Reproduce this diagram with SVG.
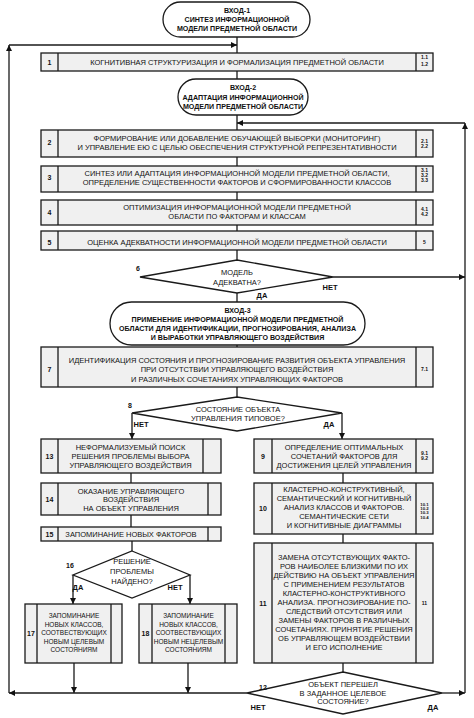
<svg xmlns="http://www.w3.org/2000/svg" width="474" height="718" viewBox="0 0 474 718">
<defs>
<marker id="ah" viewBox="0 0 10 10" refX="10" refY="5" markerWidth="7" markerHeight="6" markerUnits="userSpaceOnUse" orient="auto">
<path d="M0,0 L10,5 L0,10 z" fill="#111"/>
</marker>
</defs>
<style>
.box{fill:#f0f0f0;stroke:#1a1a1a;stroke-width:1.3}
.div{stroke:#1a1a1a;stroke-width:1.3}
.term{fill:#fff;stroke:#1a1a1a;stroke-width:1.3}
.dia{fill:#fff;stroke:#1a1a1a;stroke-width:1.3}
.c{fill:none;stroke:#1a1a1a;stroke-width:1.3}
.ca{fill:none;stroke:#1a1a1a;stroke-width:1.3;marker-end:url(#ah)}
text{font-family:"Liberation Sans",Arial,sans-serif;fill:#111;text-anchor:middle}
.t{font-size:7.5px}
.ts{font-size:6.5px}
.tb{font-size:7.1px;font-weight:bold}
.n{font-size:7px;font-weight:bold}
.s{font-size:5px;font-weight:bold}
.xs{font-size:4.3px;font-weight:bold}
.l{font-size:7.5px;font-weight:bold}
</style>

<g id="connectors">
<path class="c" d="M237,37 V53 M237,71 V79 M237,115 V130 M237,157 V166 M237,192 V200 M237,225 V231 M237,250 V260 M237,293 V302 M237,345 V347 M237,387 V397"/>
<path class="c" d="M131,473 V483 M131,515 V527 M132,541 V551 M343,473 V483 M343,534 V543 M343,663 V672"/>
<path class="ca" d="M132,413 V439"/>
<path class="ca" d="M342,413 V439"/>
<path class="ca" d="M73,575 V604"/>
<path class="ca" d="M190,575 V604"/>
<path class="ca" d="M74,663 V693"/>
<path class="ca" d="M188,663 V693"/>
<path class="ca" d="M333,277 H465"/>
<path class="ca" d="M442,693 H465"/>
<path class="ca" d="M465,693 V123"/>
<path class="ca" d="M465,123 H237"/>
<path class="ca" d="M247,693 H9"/>
<path class="ca" d="M9,693 V45"/>
<path class="ca" d="M9,45 H237"/>
</g>

<g id="t1">
<rect class="term" x="163" y="2" width="147" height="35" rx="17.5"/>
<text class="tb" x="237" y="13">ВХОД-1</text>
<text class="tb" x="237" y="22">СИНТЕЗ ИНФОРМАЦИОННОЙ</text>
<text class="tb" x="237" y="31">МОДЕЛИ ПРЕДМЕТНОЙ ОБЛАСТИ</text>
</g>

<g id="b1">
<rect class="box" x="41" y="53" width="392" height="18"/>
<path class="div" d="M58,53 V71 M416,53 V71"/>
<text class="n" x="49.5" y="64.5">1</text>
<text class="t" x="237" y="64.7">КОГНИТИВНАЯ СТРУКТУРИЗАЦИЯ И ФОРМАЛИЗАЦИЯ ПРЕДМЕТНОЙ ОБЛАСТИ</text>
<text class="s" x="424.5" y="59.3">1.1</text>
<text class="s" x="424.5" y="65.8">1.2</text>
</g>

<g id="t2">
<rect class="term" x="178" y="79" width="130" height="36" rx="18"/>
<text class="tb" x="243" y="90">ВХОД-2</text>
<text class="tb" x="243" y="99.5">АДАПТАЦИЯ ИНФОРМАЦИОННОЙ</text>
<text class="tb" x="243" y="109">МОДЕЛИ ПРЕДМЕТНОЙ ОБЛАСТИ</text>
</g>

<g id="b2">
<rect class="box" x="41" y="130" width="392" height="27"/>
<path class="div" d="M58,130 V157 M416,130 V157"/>
<text class="n" x="49.5" y="145">2</text>
<text class="t" x="237" y="141">ФОРМИРОВАНИЕ ИЛИ ДОБАВЛЕНИЕ ОБУЧАЮЩЕЙ ВЫБОРКИ (МОНИТОРИНГ)</text>
<text class="t" x="237" y="150">И УПРАВЛЕНИЕ ЕЮ С ЦЕЛЬЮ ОБЕСПЕЧЕНИЯ СТРУКТУРНОЙ РЕПРЕЗЕНТАТИВНОСТИ</text>
<text class="s" x="424.5" y="142.5">2.1</text>
<text class="s" x="424.5" y="147.5">2.2</text>
</g>

<g id="b3">
<rect class="box" x="41" y="166" width="392" height="26"/>
<path class="div" d="M58,166 V192 M416,166 V192"/>
<text class="n" x="49.5" y="180">3</text>
<text class="t" x="237" y="176">СИНТЕЗ ИЛИ АДАПТАЦИЯ ИНФОРМАЦИОННОЙ МОДЕЛИ ПРЕДМЕТНОЙ ОБЛАСТИ,</text>
<text class="t" x="237" y="185">ОПРЕДЕЛЕНИЕ СУЩЕСТВЕННОСТИ ФАКТОРОВ И СФОРМИРОВАННОСТИ КЛАССОВ</text>
<text class="s" x="424.5" y="171.8">3.1</text>
<text class="s" x="424.5" y="176.8">3.2</text>
<text class="s" x="424.5" y="181.8">3.3</text>
</g>

<g id="b4">
<rect class="box" x="41" y="200" width="392" height="25"/>
<path class="div" d="M58,200 V225 M416,200 V225"/>
<text class="n" x="49.5" y="215">4</text>
<text class="t" x="237" y="209.5">ОПТИМИЗАЦИЯ ИНФОРМАЦИОННОЙ МОДЕЛИ ПРЕДМЕТНОЙ</text>
<text class="t" x="237" y="218.5">ОБЛАСТИ ПО ФАКТОРАМ И КЛАССАМ</text>
<text class="s" x="424.5" y="210.8">4.1</text>
<text class="s" x="424.5" y="215.8">4.2</text>
</g>

<g id="b5">
<rect class="box" x="41" y="231" width="392" height="19"/>
<path class="div" d="M58,231 V250 M416,231 V250"/>
<text class="n" x="49.5" y="244.5">5</text>
<text class="t" x="237" y="244.5">ОЦЕНКА АДЕКВАТНОСТИ ИНФОРМАЦИОННОЙ МОДЕЛИ ПРЕДМЕТНОЙ ОБЛАСТИ</text>
<text class="s" x="424.5" y="243.5">5</text>
</g>

<g id="d6">
<path class="dia" d="M237,260 L333,277 L237,293 L140,277 Z"/>
<text class="t" x="237" y="274.5">МОДЕЛЬ</text>
<text class="t" x="237" y="284.5">АДЕКВАТНА?</text>
<text class="n" x="138" y="270.5">6</text>
<text class="l" x="330" y="289.5">НЕТ</text>
<text class="l" x="262" y="297.5">ДА</text>
</g>

<g id="t3">
<rect class="term" x="110" y="302" width="255" height="43" rx="21.5"/>
<text class="tb" x="237.5" y="313">ВХОД-3</text>
<text class="tb" x="237.5" y="322">ПРИМЕНЕНИЕ ИНФОРМАЦИОННОЙ МОДЕЛИ ПРЕДМЕТНОЙ</text>
<text class="tb" x="237.5" y="331">ОБЛАСТИ ДЛЯ ИДЕНТИФИКАЦИИ, ПРОГНОЗИРОВАНИЯ, АНАЛИЗА</text>
<text class="tb" x="237.5" y="340">И ВЫРАБОТКИ УПРАВЛЯЮЩЕГО ВОЗДЕЙСТВИЯ</text>
</g>

<g id="b7">
<rect class="box" x="41" y="347" width="392" height="40"/>
<path class="div" d="M58,347 V387 M416,347 V387"/>
<text class="n" x="49.5" y="372">7</text>
<text class="t" x="237" y="362.5">ИДЕНТИФИКАЦИЯ СОСТОЯНИЯ И ПРОГНОЗИРОВАНИЕ РАЗВИТИЯ ОБЪЕКТА УПРАВЛЕНИЯ</text>
<text class="t" x="237" y="371.5">ПРИ ОТСУТСТВИИ УПРАВЛЯЮЩЕГО ВОЗДЕЙСТВИЯ</text>
<text class="t" x="237" y="381.5">И РАЗЛИЧНЫХ СОЧЕТАНИЯХ УПРАВЛЯЮЩИХ ФАКТОРОВ</text>
<text class="s" x="424.5" y="370.8">7.1</text>
</g>

<g id="d8">
<path class="dia" d="M237,397 L342,413 L237,431 L132,413 Z"/>
<text class="t" x="238" y="411.5">СОСТОЯНИЕ ОБЪЕКТА</text>
<text class="t" x="238" y="420.5">УПРАВЛЕНИЯ ТИПОВОЕ?</text>
<text class="n" x="130" y="407.5">8</text>
<text class="l" x="141" y="426.5">НЕТ</text>
<text class="l" x="329" y="426.5">ДА</text>
</g>

<g id="b13">
<rect class="box" x="41" y="439" width="180" height="34"/>
<path class="div" d="M58,439 V473 M203,439 V473"/>
<text class="n" x="49.5" y="458.5">13</text>
<text class="t" x="130.5" y="450">НЕФОРМАЛИЗУЕМЫЙ ПОИСК</text>
<text class="t" x="130.5" y="459">РЕШЕНИЯ ПРОБЛЕМЫ ВЫБОРА</text>
<text class="t" x="130.5" y="468">УПРАВЛЯЮЩЕГО ВОЗДЕЙСТВИЯ</text>
</g>

<g id="b9">
<rect class="box" x="254" y="439" width="179" height="34"/>
<path class="div" d="M272,439 V473 M416,439 V473"/>
<text class="n" x="263" y="458.5">9</text>
<text class="t" x="344" y="450">ОПРЕДЕЛЕНИЕ ОПТИМАЛЬНЫХ</text>
<text class="t" x="344" y="459">СОЧЕТАНИЙ ФАКТОРОВ ДЛЯ</text>
<text class="t" x="344" y="468">ДОСТИЖЕНИЯ ЦЕЛЕЙ УПРАВЛЕНИЯ</text>
<text class="s" x="424.5" y="455">9.1</text>
<text class="s" x="424.5" y="460">9.2</text>
</g>

<g id="b14">
<rect class="box" x="41" y="483" width="180" height="32"/>
<path class="div" d="M58,483 V515 M208,483 V515"/>
<text class="n" x="49.5" y="501.5">14</text>
<text class="t" x="131" y="493.5">ОКАЗАНИЕ УПРАВЛЯЮЩЕГО</text>
<text class="t" x="131" y="502">ВОЗДЕЙСТВИЯ</text>
<text class="t" x="131" y="511">НА ОБЪЕКТ УПРАВЛЕНИЯ</text>
</g>

<g id="b15">
<rect class="box" x="41" y="527" width="180" height="14"/>
<path class="div" d="M58,527 V541 M208,527 V541"/>
<text class="n" x="49.5" y="536.5">15</text>
<text class="t" x="131" y="536.8">ЗАПОМИНАНИЕ НОВЫХ ФАКТОРОВ</text>
</g>

<g id="b10">
<rect class="box" x="254" y="483" width="179" height="51"/>
<path class="div" d="M272,483 V534 M416,483 V534"/>
<text class="n" x="263" y="510.5">10</text>
<text class="t" x="344" y="492">КЛАСТЕРНО-КОНСТРУКТИВНЫЙ,</text>
<text class="t" x="344" y="501">СЕМАНТИЧЕСКИЙ И КОГНИТИВНЫЙ</text>
<text class="t" x="344" y="510">АНАЛИЗ КЛАССОВ И ФАКТОРОВ.</text>
<text class="t" x="344" y="519">СЕМАНТИЧЕСКИЕ СЕТИ</text>
<text class="t" x="344" y="528">И КОГНИТИВНЫЕ ДИАГРАММЫ</text>
<text class="xs" x="424.5" y="505.6">10.1</text>
<text class="xs" x="424.5" y="509.9">10.2</text>
<text class="xs" x="424.5" y="514.2">10.3</text>
<text class="xs" x="424.5" y="518.5">10.4</text>
</g>

<g id="b11">
<rect class="box" x="254" y="543" width="179" height="120"/>
<path class="div" d="M272,543 V663 M416,543 V663"/>
<text class="n" x="263" y="605.5">11</text>
<text class="t" x="344" y="559.5">ЗАМЕНА ОТСУТСТВУЮЩИХ ФАКТО-</text>
<text class="t" x="344" y="568.6">РОВ НАИБОЛЕЕ БЛИЗКИМИ ПО ИХ</text>
<text class="t" x="344" y="577.6">ДЕЙСТВИЮ НА ОБЪЕКТ УПРАВЛЕНИЯ</text>
<text class="t" x="344" y="586.7">С ПРИМЕНЕНИЕМ РЕЗУЛЬТАТОВ</text>
<text class="t" x="344" y="595.7">КЛАСТЕРНО-КОНСТРУКТИВНОГО</text>
<text class="t" x="344" y="604.8">АНАЛИЗА. ПРОГНОЗИРОВАНИЕ ПО-</text>
<text class="t" x="344" y="613.9">СЛЕДСТВИЙ ОТСУТСТВИЯ ИЛИ</text>
<text class="t" x="344" y="622.9">ЗАМЕНЫ ФАКТОРОВ В РАЗЛИЧНЫХ</text>
<text class="t" x="344" y="632">СОЧЕТАНИЯХ. ПРИНЯТИЕ РЕШЕНИЯ</text>
<text class="t" x="344" y="641">ОБ УПРАВЛЯЮЩЕМ ВОЗДЕЙСТВИИ</text>
<text class="t" x="344" y="650">И ЕГО ИСПОЛНЕНИЕ</text>
<text class="s" x="424.5" y="605">11</text>
</g>

<g id="d16">
<path class="dia" d="M132,551 L190,575 L132,598 L73,575 Z"/>
<text class="t" x="132" y="564">РЕШЕНИЕ</text>
<text class="t" x="132" y="574">ПРОБЛЕМЫ</text>
<text class="t" x="132" y="584">НАЙДЕНО?</text>
<text class="n" x="70" y="567.5">16</text>
<text class="l" x="78" y="589.5">ДА</text>
<text class="l" x="175" y="589.5">НЕТ</text>
</g>

<g id="b17">
<rect class="box" x="25" y="604" width="97" height="59"/>
<path class="div" d="M37,604 V663 M111,604 V663"/>
<text class="n" x="31" y="635.5">17</text>
<text class="ts" x="74" y="618">ЗАПОМИНАНИЕ</text>
<text class="ts" x="74" y="626.5">НОВЫХ КЛАССОВ,</text>
<text class="ts" x="74" y="635">СООТВЕСТВУЮЩИХ</text>
<text class="ts" x="74" y="643.5">НОВЫМ ЦЕЛЕВЫМ</text>
<text class="ts" x="74" y="652">СОСТОЯНИЯМ</text>
</g>

<g id="b18">
<rect class="box" x="139" y="604" width="98" height="59"/>
<path class="div" d="M152,604 V663 M225,604 V663"/>
<text class="n" x="145.5" y="635.5">18</text>
<text class="ts" x="188.5" y="618">ЗАПОМИНАНИЕ</text>
<text class="ts" x="188.5" y="626.5">НОВЫХ КЛАССОВ,</text>
<text class="ts" x="188.5" y="635">СООТВЕСТВУЮЩИХ</text>
<text class="ts" x="188.5" y="643.5">НОВЫМ НЕЦЕЛЕВЫМ</text>
<text class="ts" x="188.5" y="652">СОСТОЯНИЯМ</text>
</g>

<g id="d12">
<path class="dia" d="M343,672 L442,693 L343,714 L247,693 Z"/>
<text class="t" x="343" y="687">ОБЪЕКТ ПЕРЕШЕЛ</text>
<text class="t" x="343" y="695.5">В ЗАДАННОЕ ЦЕЛЕВОЕ</text>
<text class="t" x="343" y="704">СОСТОЯНИЕ?</text>
<text class="n" x="263" y="689.5">12</text>
<text class="l" x="258" y="709.5">НЕТ</text>
<text class="l" x="433" y="709.5">ДА</text>
</g>
</svg>
